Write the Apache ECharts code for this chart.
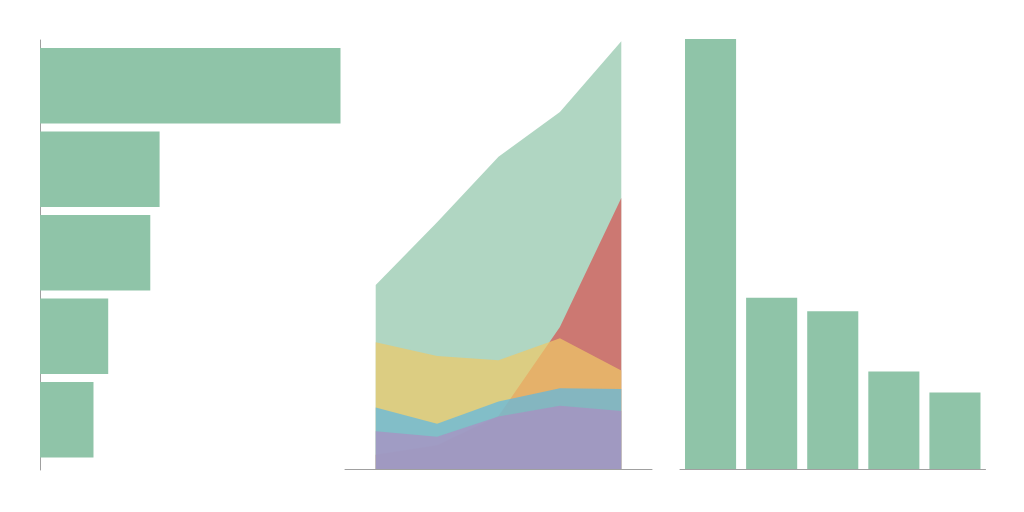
<!DOCTYPE html>
<html>
<head>
<meta charset="utf-8">
<script src="https://cdn.jsdelivr.net/npm/echarts@6/dist/echarts.min.js"></script>
<style>html,body{margin:0;padding:0;background:#fff}#c{width:1024px;height:512px}</style>
</head>
<body>
<div id="c"></div>
<script>
const categories = ['A', 'B', 'C', 'D', 'E'];
const barValues = [100, 39.8, 36.7, 22.7, 17.8];
const areaGreen = [42.8, 57.4, 72.6, 83.0, 99.5];
const areaRed = [3.3, 5.5, 12.3, 33.0, 63.0];
const areaYellow = [29.5, 26.3, 25.3, 30.4, 22.9];
const areaTeal = [14.3, 10.5, 15.7, 18.8, 18.6];
const areaPurple = [8.8, 7.5, 12.2, 14.7, 13.5];

const axisColor = '#a0a0a0';
const barColor = '#8fc4a8';
const hidden = {axisLine:{show:false}, axisTick:{show:false}, axisLabel:{show:false}, splitLine:{show:false}};

function areaSeries(data, color) {
  return {
    type: 'line', xAxisIndex: 2, yAxisIndex: 2, data: data,
    symbol: 'none', showSymbol: false,
    lineStyle: {width: 0, opacity: 0},
    areaStyle: {color: color, opacity: 0.7},
    itemStyle: {color: color},
    silent: true
  };
}

const chart = echarts.init(document.getElementById('c'));
chart.setOption({
  animation: false,
  backgroundColor: '#fff',
  grid: [
    {left: 40, top: 44, width: 300.5, height: 417.5},
    {left: 40, top: 40, width: 300.5, height: 430},
    {left: 345, top: 39, width: 307, height: 430},
    {left: 680, top: 39, width: 305.5, height: 430}
  ],
  xAxis: [
    Object.assign({type: 'value', gridIndex: 0, min: 0, max: 100}, hidden),
    Object.assign({type: 'value', gridIndex: 1, min: 0, max: 100}, hidden),
    Object.assign({}, hidden, {type: 'category', gridIndex: 2, data: categories, boundaryGap: true,
      axisLine: {show: true, lineStyle: {color: axisColor, width: 1}}}),
    Object.assign({}, hidden, {type: 'category', gridIndex: 3, data: categories,
      axisLine: {show: true, lineStyle: {color: axisColor, width: 1}}})
  ],
  yAxis: [
    Object.assign({type: 'category', gridIndex: 0, data: categories, inverse: true}, hidden),
    Object.assign({}, hidden, {type: 'value', gridIndex: 1, min: 0, max: 100,
      axisLine: {show: true, lineStyle: {color: axisColor, width: 1}}}),
    Object.assign({type: 'value', gridIndex: 2, min: 0, max: 100}, hidden),
    Object.assign({type: 'value', gridIndex: 3, min: 0, max: 100}, hidden)
  ],
  series: [
    {type: 'bar', xAxisIndex: 0, yAxisIndex: 0, data: barValues, barCategoryGap: '9.6%',
      itemStyle: {color: barColor}, silent: true},
    areaSeries(areaGreen, '#8fc4a8'),
    areaSeries(areaRed, '#d95050'),
    areaSeries(areaYellow, '#f0c967'),
    areaSeries(areaTeal, '#5bb8e6'),
    areaSeries(areaPurple, '#ad8dc2'),
    {type: 'bar', xAxisIndex: 3, yAxisIndex: 3, data: barValues, barCategoryGap: '16.4%',
      itemStyle: {color: barColor}, silent: true}
  ]
});
</script>
</body>
</html>
